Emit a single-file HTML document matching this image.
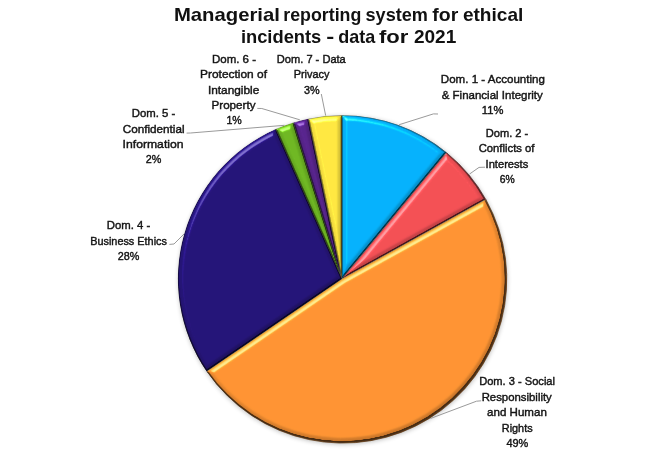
<!DOCTYPE html>
<html lang="en"><head><meta charset="utf-8"><title>Managerial reporting system for ethical incidents - data for 2021</title>
<style>
html,body{margin:0;padding:0;background:#fff;}
body{width:650px;height:460px;overflow:hidden;position:relative;}
svg{position:absolute;left:0;top:0;display:block;filter:blur(0.4px);}
text{font-family:"Liberation Sans",sans-serif;}
.lbl{font-size:11.4px;fill:#141414;stroke:#141414;stroke-width:0.42px;}
.ttl{font-size:18.4px;font-weight:bold;fill:#111;}
</style></head><body>
<svg width="650" height="460" viewBox="0 0 650 460">
<defs>
<filter id="bevel" x="-10%" y="-10%" width="120%" height="120%" color-interpolation-filters="sRGB">
  <feGaussianBlur in="SourceAlpha" stdDeviation="2.2" result="blur"/>
  <feComponentTransfer in="blur" result="hmap"><feFuncA type="table" tableValues="0.000 0.000 0.000 0.000 0.000 0.000 0.000 0.000 0.000 0.000 0.000 0.000 0.000 0.000 0.000 0.000 0.000 0.000 0.000 0.000 0.000 0.000 0.000 0.000 0.000 0.000 0.000 0.000 0.000 0.000 0.000 0.000 0.000 0.000 0.000 0.000 0.000 0.000 0.000 0.000 0.000 0.000 0.000 0.000 0.000 0.000 0.000 0.000 0.000 0.000 0.000 0.000 0.000 0.000 0.000 0.000 0.000 0.000 0.000 0.000 0.000 0.000 0.000 0.000 0.000 0.000 0.000 0.000 0.000 0.000 0.000 0.000 0.000 0.000 0.000 0.000 0.000 0.000 0.000 0.000 0.000 0.000 0.000 0.000 0.000 0.000 0.000 0.000 0.000 0.000 0.000 0.000 0.000 0.000 0.000 0.000 0.000 0.000 0.000 0.000 0.000 0.000 0.000 0.000 0.000 0.000 0.000 0.000 0.000 0.000 0.000 0.000 0.000 0.000 0.000 0.000 0.000 0.000 0.000 0.000 0.000 0.000 0.000 0.000 0.000 0.000 0.000 0.000 0.000 0.009 0.019 0.028 0.037 0.046 0.055 0.064 0.073 0.082 0.091 0.100 0.108 0.117 0.125 0.134 0.142 0.151 0.159 0.167 0.176 0.184 0.192 0.200 0.208 0.216 0.224 0.232 0.240 0.247 0.255 0.263 0.270 0.278 0.285 0.293 0.300 0.308 0.315 0.322 0.329 0.337 0.344 0.351 0.358 0.365 0.372 0.379 0.385 0.392 0.399 0.406 0.413 0.420 0.427 0.434 0.440 0.447 0.454 0.461 0.468 0.475 0.481 0.488 0.495 0.502 0.509 0.515 0.522 0.529 0.536 0.542 0.549 0.556 0.563 0.570 0.576 0.583 0.590 0.597 0.603 0.610 0.617 0.624 0.631 0.637 0.644 0.651 0.658 0.665 0.672 0.679 0.686 0.693 0.700 0.707 0.714 0.722 0.729 0.736 0.744 0.751 0.759 0.767 0.775 0.783 0.791 0.799 0.807 0.816 0.824 0.833 0.842 0.851 0.860 0.870 0.880 0.889 0.900 0.910 0.921 0.932 0.943 0.955 0.967 0.979 0.991 1.000 1.000"/></feComponentTransfer>
  <feDiffuseLighting in="hmap" surfaceScale="3.436" diffuseConstant="1" lighting-color="#ffffff" result="diff">
    <feDistantLight azimuth="240" elevation="55"/>
  </feDiffuseLighting>
  <feComponentTransfer in="diff" result="diff2">
    <feFuncR type="table" tableValues="0.533 0.536 0.539 0.541 0.544 0.547 0.549 0.552 0.555 0.557 0.560 0.563 0.565 0.568 0.571 0.573 0.577 0.581 0.584 0.588 0.591 0.595 0.599 0.602 0.606 0.609 0.613 0.616 0.620 0.624 0.627 0.631 0.634 0.638 0.642 0.645 0.649 0.652 0.656 0.660 0.663 0.669 0.705 0.742 0.779 0.816 0.853 0.890 0.926 0.963 1.000"/><feFuncG type="table" tableValues="0.533 0.536 0.539 0.541 0.544 0.547 0.549 0.552 0.555 0.557 0.560 0.563 0.565 0.568 0.571 0.573 0.577 0.581 0.584 0.588 0.591 0.595 0.599 0.602 0.606 0.609 0.613 0.616 0.620 0.624 0.627 0.631 0.634 0.638 0.642 0.645 0.649 0.652 0.656 0.660 0.663 0.669 0.705 0.742 0.779 0.816 0.853 0.890 0.926 0.963 1.000"/><feFuncB type="table" tableValues="0.533 0.536 0.539 0.541 0.544 0.547 0.549 0.552 0.555 0.557 0.560 0.563 0.565 0.568 0.571 0.573 0.577 0.581 0.584 0.588 0.591 0.595 0.599 0.602 0.606 0.609 0.613 0.616 0.620 0.624 0.627 0.631 0.634 0.638 0.642 0.645 0.649 0.652 0.656 0.660 0.663 0.669 0.705 0.742 0.779 0.816 0.853 0.890 0.926 0.963 1.000"/>
  </feComponentTransfer>
  <feGaussianBlur in="SourceAlpha" stdDeviation="0.65" result="blurB"/>
  <feDiffuseLighting in="blurB" surfaceScale="4.5" diffuseConstant="1" lighting-color="#ffffff" result="diffB">
    <feDistantLight azimuth="245" elevation="55"/>
  </feDiffuseLighting>
  <feComponentTransfer in="diffB" result="diffB2">
    <feFuncR type="table" tableValues="0.400 0.408 0.416 0.424 0.432 0.440 0.448 0.456 0.464 0.472 0.480 0.499 0.517 0.536 0.555 0.573 0.592 0.611 0.631 0.652 0.673 0.695 0.716 0.737 0.759 0.780 0.788 0.796 0.804 0.812 0.820 0.828 0.836 0.844 0.852 0.860 0.888 0.916 0.944 0.972 1.000 1.000 1.000 1.000 1.000 1.000 1.000 1.000 1.000 1.000 1.000"/><feFuncG type="table" tableValues="0.400 0.408 0.416 0.424 0.432 0.440 0.448 0.456 0.464 0.472 0.480 0.499 0.517 0.536 0.555 0.573 0.592 0.611 0.631 0.652 0.673 0.695 0.716 0.737 0.759 0.780 0.788 0.796 0.804 0.812 0.820 0.828 0.836 0.844 0.852 0.860 0.888 0.916 0.944 0.972 1.000 1.000 1.000 1.000 1.000 1.000 1.000 1.000 1.000 1.000 1.000"/><feFuncB type="table" tableValues="0.400 0.408 0.416 0.424 0.432 0.440 0.448 0.456 0.464 0.472 0.480 0.499 0.517 0.536 0.555 0.573 0.592 0.611 0.631 0.652 0.673 0.695 0.716 0.737 0.759 0.780 0.788 0.796 0.804 0.812 0.820 0.828 0.836 0.844 0.852 0.860 0.888 0.916 0.944 0.972 1.000 1.000 1.000 1.000 1.000 1.000 1.000 1.000 1.000 1.000 1.000"/>
  </feComponentTransfer>
  <feBlend in="SourceGraphic" in2="diff2" mode="multiply" result="shaded"/>
  <feComponentTransfer in="shaded" result="lit">
    <feFuncR type="linear" slope="1.5"/><feFuncG type="linear" slope="1.5"/><feFuncB type="linear" slope="1.5"/>
  </feComponentTransfer>
  <feColorMatrix in="diff" type="matrix" values="0 0 0 0 1  0 0 0 0 1  0 0 0 0 1  1 0 0 0 0" result="spec0"/>
  <feComponentTransfer in="spec0" result="spec"><feFuncA type="table" tableValues="0.000 0.000 0.000 0.000 0.000 0.000 0.000 0.000 0.000 0.000 0.000 0.000 0.000 0.000 0.000 0.000 0.000 0.000 0.000 0.000 0.000 0.000 0.000 0.000 0.000 0.000 0.000 0.000 0.000 0.000 0.000 0.000 0.000 0.000 0.000 0.000 0.000 0.000 0.000 0.000 0.000 0.000 0.000 0.000 0.000 0.000 0.076 0.152 0.228 0.304 0.380"/></feComponentTransfer>
  <feGaussianBlur in="SourceAlpha" stdDeviation="1.3" result="blurR"/>
  <feComponentTransfer in="blurR" result="rim"><feFuncA type="table" tableValues="0.3 0.3 0.3 0.3 0.3 0.27 0.2 0.12 0.055 0.015 0"/></feComponentTransfer>
  <feMerge result="lit1"><feMergeNode in="lit"/><feMergeNode in="spec"/><feMergeNode in="rim"/></feMerge>
  <feBlend in="lit1" in2="diffB2" mode="multiply" result="lit2"/>
  <feComposite in="lit2" in2="SourceAlpha" operator="in"/>
</filter>
<filter id="soft" x="-5%" y="-5%" width="110%" height="110%"><feGaussianBlur stdDeviation="0.45"/></filter>
<filter id="shadow" x="-10%" y="-10%" width="120%" height="120%">
  <feGaussianBlur stdDeviation="2.5"/>
</filter>
</defs>
<rect width="650" height="460" fill="#fff"/>
<ellipse cx="342.9" cy="280.3" rx="164.0" ry="163.6" fill="#000" opacity="0.3" filter="url(#shadow)"/>
<g transform="translate(0.85,0.65)" filter="url(#soft)">
<path d="M341.90,278.80L341.90,115.20A164.0,163.6 0 0 1 446.22,152.56Z" fill="#02405b" stroke="#02405b" stroke-width="0.7"/>
<path d="M341.90,278.80L446.22,152.56A164.0,163.6 0 0 1 485.34,199.49Z" fill="#581d1e" stroke="#581d1e" stroke-width="0.7"/>
<path d="M341.90,278.80L485.34,199.49A164.0,163.6 0 0 1 206.58,371.23Z" fill="#5b3512" stroke="#5b3512" stroke-width="0.7"/>
<path d="M341.90,278.80L206.58,371.23A164.0,163.6 0 0 1 275.72,129.11Z" fill="#0d072b" stroke="#0d072b" stroke-width="0.7"/>
<path d="M341.90,278.80L275.72,129.11A164.0,163.6 0 0 1 293.40,122.52Z" fill="#28420c" stroke="#28420c" stroke-width="0.7"/>
<path d="M341.90,278.80L293.40,122.52A164.0,163.6 0 0 1 308.22,118.69Z" fill="#200d33" stroke="#200d33" stroke-width="0.7"/>
<path d="M341.90,278.80L308.22,118.69A164.0,163.6 0 0 1 341.90,115.20Z" fill="#5b5317" stroke="#5b5317" stroke-width="0.7"/>
</g>
<path d="M341.90,278.80L341.90,115.20A164.0,163.6 0 0 1 446.22,152.56Z" fill="#06B3FD" filter="url(#bevel)"/>
<path d="M341.90,278.80L446.22,152.56A164.0,163.6 0 0 1 485.34,199.49Z" fill="#F55156" filter="url(#bevel)"/>
<path d="M341.90,278.80L485.34,199.49A164.0,163.6 0 0 1 206.58,371.23Z" fill="#FF9534" filter="url(#bevel)"/>
<path d="M341.90,278.80L206.58,371.23A164.0,163.6 0 0 1 275.72,129.11Z" fill="#261579" filter="url(#bevel)"/>
<path d="M341.90,278.80L275.72,129.11A164.0,163.6 0 0 1 293.40,122.52Z" fill="#70B924" filter="url(#bevel)"/>
<path d="M341.90,278.80L293.40,122.52A164.0,163.6 0 0 1 308.22,118.69Z" fill="#59258E" filter="url(#bevel)"/>
<path d="M341.90,278.80L308.22,118.69A164.0,163.6 0 0 1 341.90,115.20Z" fill="#FFE842" filter="url(#bevel)"/>
<polyline points="438,114 433.4,113.9 399.2,124.7" fill="none" stroke="#9a9a9a" stroke-width="1"/>
<polyline points="485,167.2 479,167.4 469.6,174" fill="none" stroke="#9a9a9a" stroke-width="1"/>
<polyline points="481.2,400.8 476.5,401.2 430.4,418.5" fill="none" stroke="#9a9a9a" stroke-width="1"/>
<polyline points="169.4,244.4 174,244 184,234" fill="none" stroke="#9a9a9a" stroke-width="1"/>
<polyline points="186.6,133.1 190.5,133 284.5,125.3" fill="none" stroke="#9a9a9a" stroke-width="1"/>
<polyline points="257.3,108.4 261.8,108.5 299.8,119.8" fill="none" stroke="#9a9a9a" stroke-width="1"/>
<polyline points="321.3,94 325.7,115.7" fill="none" stroke="#9a9a9a" stroke-width="1"/>
<text class="lbl" x="440.80" y="83.4" textLength="104.10" lengthAdjust="spacingAndGlyphs">Dom. 1 - Accounting</text>
<text class="lbl" x="441.70" y="98.6" textLength="101.10" lengthAdjust="spacingAndGlyphs">&amp; Financial Integrity</text>
<text class="lbl" x="481.80" y="114.2" textLength="21.50" lengthAdjust="spacingAndGlyphs">11%</text>
<text class="lbl" x="485.80" y="137" textLength="42.50" lengthAdjust="spacingAndGlyphs">Dom. 2 -</text>
<text class="lbl" x="478.70" y="152.4" textLength="55.75" lengthAdjust="spacingAndGlyphs">Conflicts of</text>
<text class="lbl" x="485.55" y="167.6" textLength="42.75" lengthAdjust="spacingAndGlyphs">Interests</text>
<text class="lbl" x="499.70" y="182.6" textLength="14.95" lengthAdjust="spacingAndGlyphs">6%</text>
<text class="lbl" x="479.20" y="385.3" textLength="75.80" lengthAdjust="spacingAndGlyphs">Dom. 3 - Social</text>
<text class="lbl" x="481.65" y="400.8" textLength="70.15" lengthAdjust="spacingAndGlyphs">Responsibility</text>
<text class="lbl" x="487.05" y="416.2" textLength="59.80" lengthAdjust="spacingAndGlyphs">and Human</text>
<text class="lbl" x="501.80" y="431.5" textLength="30.85" lengthAdjust="spacingAndGlyphs">Rights</text>
<text class="lbl" x="506.45" y="446.9" textLength="21.85" lengthAdjust="spacingAndGlyphs">49%</text>
<text class="lbl" x="106.85" y="229.4" textLength="43.45" lengthAdjust="spacingAndGlyphs">Dom. 4 -</text>
<text class="lbl" x="90.20" y="245" textLength="76.75" lengthAdjust="spacingAndGlyphs">Business Ethics</text>
<text class="lbl" x="117.70" y="260" textLength="21.60" lengthAdjust="spacingAndGlyphs">28%</text>
<text class="lbl" x="131.85" y="117.4" textLength="43.45" lengthAdjust="spacingAndGlyphs">Dom. 5 -</text>
<text class="lbl" x="122.70" y="133" textLength="61.85" lengthAdjust="spacingAndGlyphs">Confidential</text>
<text class="lbl" x="122.60" y="148" textLength="60.95" lengthAdjust="spacingAndGlyphs">Information</text>
<text class="lbl" x="145.70" y="163" textLength="15.60" lengthAdjust="spacingAndGlyphs">2%</text>
<text class="lbl" x="212.00" y="62.7" textLength="44.00" lengthAdjust="spacingAndGlyphs">Dom. 6 -</text>
<text class="lbl" x="200.05" y="78.4" textLength="66.90" lengthAdjust="spacingAndGlyphs">Protection of</text>
<text class="lbl" x="207.90" y="93.6" textLength="51.40" lengthAdjust="spacingAndGlyphs">Intangible</text>
<text class="lbl" x="211.50" y="108.5" textLength="44.00" lengthAdjust="spacingAndGlyphs">Property</text>
<text class="lbl" x="226.45" y="124.2" textLength="15.35" lengthAdjust="spacingAndGlyphs">1%</text>
<text class="lbl" x="276.85" y="62.7" textLength="68.95" lengthAdjust="spacingAndGlyphs">Dom. 7 - Data</text>
<text class="lbl" x="293.65" y="78.4" textLength="35.80" lengthAdjust="spacingAndGlyphs">Privacy</text>
<text class="lbl" x="304.00" y="93.6" textLength="15.65" lengthAdjust="spacingAndGlyphs">3%</text>
<text class="ttl" y="20.6"><tspan x="173.9" textLength="106.0" lengthAdjust="spacingAndGlyphs">Managerial</tspan> <tspan x="283.3" textLength="78.0" lengthAdjust="spacingAndGlyphs">reporting</tspan> <tspan x="365.5" textLength="62.4" lengthAdjust="spacingAndGlyphs">system</tspan> <tspan x="432.3" textLength="26.0" lengthAdjust="spacingAndGlyphs">for</tspan> <tspan x="462.9" textLength="60.4" lengthAdjust="spacingAndGlyphs">ethical</tspan></text>
<text class="ttl" y="42.5"><tspan x="240.9" textLength="80.4" lengthAdjust="spacingAndGlyphs">incidents</tspan> <tspan x="326.3" textLength="8.0" lengthAdjust="spacingAndGlyphs">-</tspan> <tspan x="338.3" textLength="37.0" lengthAdjust="spacingAndGlyphs">data</tspan> <tspan x="378.9" textLength="29.4" lengthAdjust="spacingAndGlyphs">for</tspan> <tspan x="413.9" textLength="42.4" lengthAdjust="spacingAndGlyphs">2021</tspan></text>
</svg></body></html>
